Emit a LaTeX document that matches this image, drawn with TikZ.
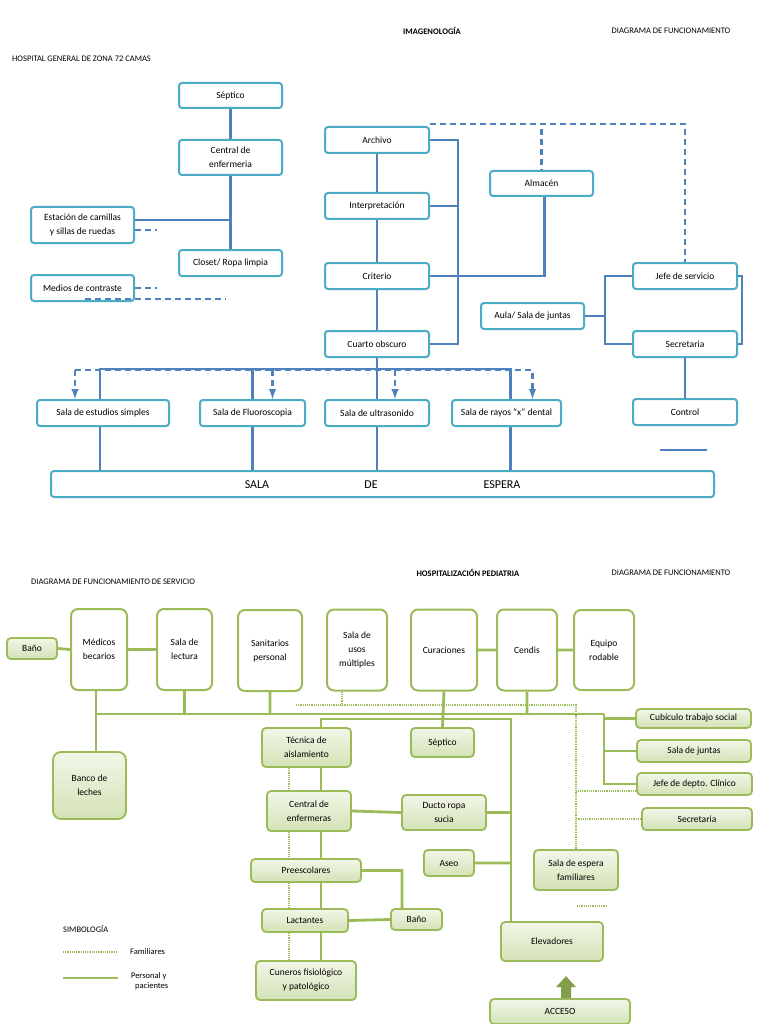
\documentclass[tikz,border=0pt]{standalone}
\usepackage{fontspec}
\setmainfont{Carlito}
\usetikzlibrary{calc}
\definecolor{bbord}{HTML}{4BACC6}
\definecolor{bline}{HTML}{4F81BD}
\definecolor{gbord}{HTML}{9BBB59}
\definecolor{gtop}{HTML}{F2F6E8}
\definecolor{gbot}{HTML}{D3E2B6}
\begin{document}
\begin{tikzpicture}
	[x=1pt,y=-1pt,
		every node/.style={font=\fontsize{9.5}{14}\selectfont,align=center,inner sep=1pt},
		bbox/.style={draw=bbord,line width=2pt,rounded corners=3pt,fill=white},
		gbox/.style={draw=gbord,line width=1.8pt,rounded corners=4pt,top color=gtop,bottom color=gbot},
		wbox/.style={draw=gbord,line width=2pt,rounded corners=7pt,fill=white},
		bl/.style={draw=bline,line width=2.4pt},
		dsh/.style={draw=bline,line width=2.4pt,dash pattern=on 6pt off 4pt},
		gl/.style={draw=gbord,line width=2.8pt},
		dot/.style={draw=gbord,line width=2.4pt,dash pattern=on 1.2pt off 1pt},
		hd/.style={font=\bfseries\fontsize{8.5}{10}\selectfont},
		tl/.style={font=\fontsize{8.5}{10}\selectfont}]

	\useasboundingbox (0,0) rectangle (768,1024);

	% ---------- imagenologia ----------
	\node[hd] (t1) at (432,31) {IMAGENOLOGÍA};
	\node[tl] (t2) at (671,31) {DIAGRAMA DE FUNCIONAMIENTO};
	\node[tl,anchor=west] (t3) at (11,59) {HOSPITAL GENERAL DE ZONA 72 CAMAS};

	\node[bbox,minimum width=103,minimum height=25] (sep) at (230.5,95.5) {Séptico};
	\node[bbox,minimum width=103,minimum height=35] (cen) at (230.5,157.5) {Central de\\enfermeria};
	\node[bbox,minimum width=103,minimum height=36] (est) at (82.5,225) {Estación de camillas\\y sillas de ruedas};
	\node[bbox,minimum width=103,minimum height=26] (clo) at (230.5,263) {Closet/ Ropa limpia};
	\node[bbox,minimum width=103,minimum height=26] (med) at (82.5,288) {Medios de contraste};
	\node[bbox,minimum width=104,minimum height=26] (arc) at (377,140) {Archivo};
	\node[bbox,minimum width=104,minimum height=26] (int) at (377,206) {Interpretación};
	\node[bbox,minimum width=104,minimum height=26] (cri) at (377,276) {Criterio};
	\node[bbox,minimum width=104,minimum height=26] (cua) at (377,344) {Cuarto obscuro};
	\node[bbox,minimum width=103,minimum height=25] (alm) at (541.5,183.5) {Almacén};
	\node[bbox,minimum width=104,minimum height=26] (jef) at (685,276) {Jefe de servicio};
	\node[bbox,minimum width=103,minimum height=26] (aula) at (532.5,316) {Aula/ Sala de juntas};
	\node[bbox,minimum width=104,minimum height=26] (sec) at (685,344) {Secretaria};
	\node[bbox,minimum width=104,minimum height=26] (ctl) at (685,412) {Control};
	\node[bbox,minimum width=132,minimum height=26] (ses) at (103,413) {Sala de estudios simples};
	\node[bbox,minimum width=105,minimum height=26] (flu) at (252.5,413) {Sala de Fluoroscopia};
	\node[bbox,minimum width=104,minimum height=26] (ult) at (377,413) {Sala de ultrasonido};
	\node[bbox,minimum width=109,minimum height=26] (ray) at (506.5,413) {Sala de rayos “x” dental};
	\node[bbox,minimum width=663,minimum height=26] (sala) at (382.5,484) {};
	\node[font=\fontsize{12}{14}\selectfont] (s1) at (257,485) {SALA};
	\node[font=\fontsize{12}{14}\selectfont] (s2) at (371,485) {DE};
	\node[font=\fontsize{12}{14}\selectfont] (s3) at (502,485) {ESPERA};

	\path[bl] (sep) -- (cen) (cen) -- (clo);
	\path[bl] ([yshift=5]est.east) -- ([yshift=5]est.east -| cen.south);
	\path[dsh] ([yshift=-5]est.east) -- ++(22,0) (med.east) -- ++(22,0);
	\coordinate (mc) at (226,299);
	\path[dsh] ([xshift=2]med.south |- mc) -- (mc);
	\coordinate (ab) at (458,140);
	\path[bl] (arc.east) -- (ab) |- (cua.east) (int.east) -- (int.east -| ab) (cri.east) -| ([xshift=3]alm.south);
	\path[bl] (arc) -- (int) (int) -- (cri) (cri) -- (cua) (cua) -- (ult) (ult.south) -- (ult.south |- sala.north);
	\path[bl] ([xshift=-3]ses.north) -- ++(0,-30) -| ([xshift=4]ray.north) (flu.north) -- ++(0,-30);
	\path[bl] ([xshift=-3]ses.south) -- ([xshift=-3]ses.south |- sala.north)
		(flu.south) -- (flu.south |- sala.north)
		([xshift=4]ray.south) -- ([xshift=4]ray.south |- sala.north);
	\coordinate (dl) at (75,370);
	\path[dsh,-latex] (dl) -- (dl |- ses.north);
	\path[dsh,-latex] (dl) -| ([xshift=26]ray.north);
	\path[dsh,-latex] ([xshift=20]flu.north |- dl) -- ([xshift=20]flu.north);
	\path[dsh,-latex] ([xshift=18]ult.north |- dl) -- ([xshift=18]ult.north);
	\path[dsh] ([yshift=2]arc.north east) -| (jef.north);
	\path[dsh] (alm.north |- 0,129) -- (alm.north);
	\coordinate (jb) at (605,276);
	\path[bl] (jef.west) -- (jb) |- (sec.west) (aula.east) -- (aula.east -| jb);
	\path[bl] (jef.east) -- ++(4,0) |- (sec.east) (sec) -- (ctl);
	\coordinate (lg1) at (660,450);
	\coordinate (lg2) at (707,450);
	\path[bl] (lg1) -- (lg2);

	% ---------- pediatria ----------
	\node[tl,anchor=west] (t4) at (30,582) {DIAGRAMA DE FUNCIONAMIENTO DE SERVICIO};
	\node[hd] (t5) at (468,573) {HOSPITALIZACIÓN PEDIATRIA};
	\node[tl] (t6) at (671,573) {DIAGRAMA DE FUNCIONAMIENTO};

	\node[gbox,minimum width=50,minimum height=21] (bano) at (32,648.5) {Baño};
	\node[wbox,minimum width=56,minimum height=81] (mbe) at (99,649.5) {Médicos\\becarios};
	\node[wbox,minimum width=55,minimum height=81] (lec) at (184.5,649.5) {Sala de\\lectura};
	\node[wbox,minimum width=64,minimum height=81] (san) at (270,650.5) {Sanitarios\\personal};
	\node[wbox,minimum width=60,minimum height=81] (usm) at (357,650) {Sala de\\usos\\múltiples};
	\node[wbox,minimum width=66,minimum height=81] (cur) at (444,650) {Curaciones};
	\node[wbox,minimum width=60,minimum height=81] (cds) at (527,650) {Cendis};
	\node[wbox,minimum width=60,minimum height=80] (eqr) at (604,650) {Equipo\\rodable};
	\node[gbox,rounded corners=8pt,minimum width=73,minimum height=67] (ban) at (89.5,785.5) {Banco de\\leches};
	\node[gbox,minimum width=89,minimum height=39] (tec) at (306.5,747.5) {Técnica de\\aislamiento};
	\node[gbox,minimum width=84,minimum height=40] (cenf) at (309,811) {Central de\\enfermeras};
	\node[gbox,minimum width=110,minimum height=23] (pre) at (306,870.5) {Preescolares};
	\node[gbox,minimum width=86,minimum height=23] (lac) at (305,920.5) {Lactantes};
	\node[gbox,minimum width=100,minimum height=39] (cun) at (306,980.5) {Cuneros fisiológico\\y patológico};
	\node[gbox,minimum width=63,minimum height=29] (sep2) at (442.5,742.5) {Séptico};
	\node[gbox,minimum width=84,minimum height=35] (duc) at (444,812.5) {Ducto ropa\\sucia};
	\node[gbox,minimum width=50,minimum height=26] (ase) at (449,863) {Aseo};
	\node[gbox,minimum width=51,minimum height=21] (bano2) at (416.5,919.5) {Baño};
	\node[gbox,minimum width=84,minimum height=40] (sef) at (576,870) {Sala de espera\\familiares};
	\node[gbox,minimum width=102,minimum height=39] (ele) at (552,941.5) {Elevadores};
	\node[gbox,minimum width=140,minimum height=25] (acc) at (560,1011.5) {ACCESO};
	\node[gbox,minimum width=115,minimum height=19] (cub) at (693.5,718.5) {Cubículo trabajo social};
	\node[gbox,minimum width=114,minimum height=22] (sju) at (694,751) {Sala de juntas};
	\node[gbox,minimum width=115,minimum height=22] (jdc) at (694.5,784) {Jefe de depto. Clínico};
	\node[gbox,minimum width=110,minimum height=22] (sec2) at (697,819) {Secretaria};

	\path[gl] (bano.east) -- (mbe.west) (mbe.east) -- (lec.west) (cur.east) -- (cds.west) (cds.east) -- (eqr.west);
	\coordinate (b1) at (96,714);
	\coordinate (b2) at (604,714);
	\path[gl] (b1) -- (b2) ([xshift=-3]mbe.south) -- ([xshift=-3]mbe.south |- ban.north);
	\path[gl] (lec.south) -- (lec.south |- b1) (san.south) -- (san.south |- b1) (cds.south) -- (cds.south |- b1) (cur.south) -- (sep2.north);
	\path[gl] (b2) |- (jdc.west) (b2 |- cub.west) -- (cub.west) (b2 |- sju.west) -- (sju.west);
	\coordinate (eb) at (511,719);
	\path[gl] ([xshift=14.5]tec.north) |- (eb) -- (eb |- ele.north);
	\path[gl] ([xshift=14.5]tec.south) -- ([xshift=12]cenf.north)
		([xshift=12]cenf.south) -- ([xshift=15]pre.north)
		([xshift=15]pre.south) -- ([xshift=16]lac.north)
		([xshift=16]lac.south) -- ([xshift=15]cun.north);
	\path[gl] (cenf.east) -- (duc.west) (duc.east) -- (duc.east -| eb) (ase.east) -- (ase.east -| eb);
	\path[gl] (pre.east) -| ([xshift=-14.5]bano2.north) (lac.east) -- (bano2.west);
	\coordinate (f1) at (296,705);
	\path[dot] (f1) -| (sef.north) ([xshift=-15]usm.south) -- ([xshift=-15]usm.south |- f1);
	\path[dot] ([yshift=-7]jdc.west) -- ([yshift=-7]jdc.west -| sef.north) (sec2.west) -- (sec2.west -| sef.north);
	\path[dot] ([xshift=-17.5]tec.south) -- ([xshift=-20]cenf.north)
		([xshift=-20]cenf.south) -- ([xshift=-17]pre.north)
		([xshift=-17]pre.south) -- ([xshift=-16]lac.north)
		([xshift=-16]lac.south) -- ([xshift=-17]cun.north);
	\path[dot] ([xshift=1,yshift=-15]sef.south) -- ++(30,0);
	\fill[gbord!85!black] ([xshift=1]acc.north) -- ++(0,-11) -- ++(-5,0) -- ++(10,-11) -- ++(10,11) -- ++(-5,0) -- ++(0,11) -- cycle;

	% simbologia
	\node[tl,anchor=west] (sim) at (62,929) {SIMBOLOGÍA};
	\coordinate (l1) at (63,952);
	\coordinate (l2) at (118,952);
	\coordinate (l3) at (63,978);
	\coordinate (l4) at (118,978);
	\path[dot] (l1) -- (l2);
	\path[gl] (l3) -- (l4);
	\node[tl,anchor=west] (lf) at (129,952) {Familiares};
	\node[tl,anchor=north west] (lp) at (128,971) {Personal y\\\hspace*{6pt}pacientes};
\end{tikzpicture}
\end{document}
